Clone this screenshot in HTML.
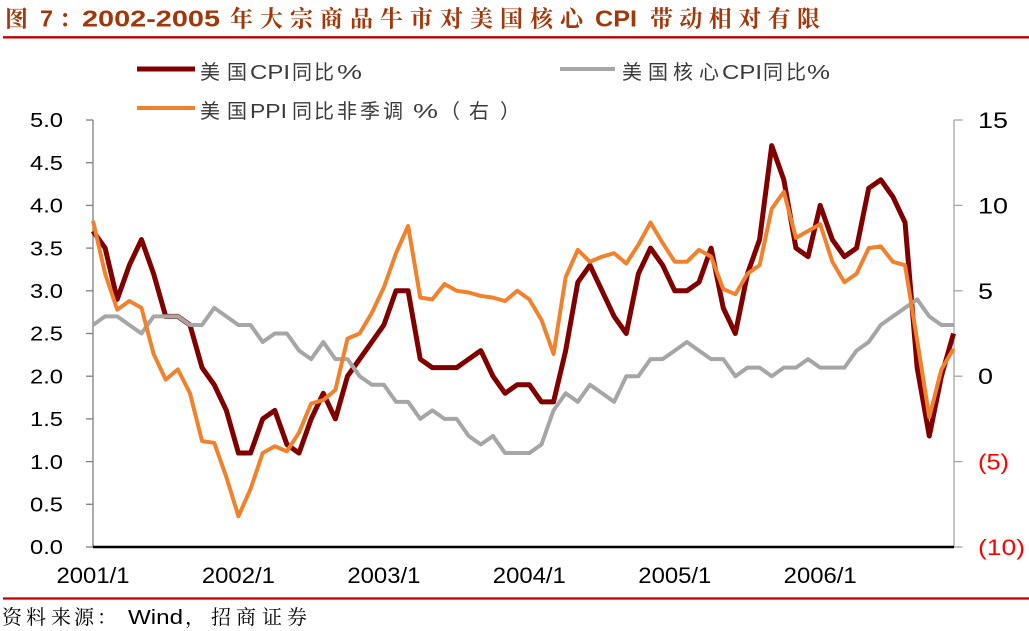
<!DOCTYPE html>
<html><head><meta charset="utf-8"><style>
html,body{margin:0;padding:0;background:#fff;}
svg{display:block;}
.sans{font-family:"Liberation Sans","Noto Sans CJK SC",sans-serif;}
.leg{font-family:"Liberation Sans","Noto Sans CJK SC",sans-serif;font-size:20px;fill:#3a3a3a;}
.ttl{font-family:"Liberation Sans","Noto Serif CJK SC",serif;font-size:23px;font-weight:bold;fill:#a0380c;}
.src{font-family:"Liberation Sans","Noto Serif CJK SC",serif;font-size:20px;fill:#000;}
</style></head><body>
<svg width="1029" height="631" viewBox="0 0 1029 631" xmlns="http://www.w3.org/2000/svg">
<rect x="0" y="0" width="1029" height="631" fill="#fff"/>

<!-- Title -->
<text class="ttl" y="26.5">
<tspan x="5">图</tspan>
<tspan x="40" textLength="13" lengthAdjust="spacingAndGlyphs">7</tspan>
<tspan x="59">：</tspan>
<tspan x="82" textLength="138" lengthAdjust="spacingAndGlyphs">2002-2005</tspan>
<tspan x="230 260 290 320 350 380 410 440 470 500 530 560">年大宗商品牛市对美国核心</tspan>
<tspan x="595" textLength="42" lengthAdjust="spacingAndGlyphs">CPI</tspan>
<tspan x="650 679.4 708.8 738.2 767.6 797">带动相对有限</tspan>
</text>
<line x1="3" y1="37.3" x2="1029" y2="37.3" stroke="#c00000" stroke-width="2.4"/>

<!-- Legend -->
<line x1="137" y1="69" x2="195" y2="69" stroke="#800000" stroke-width="5"/>
<text class="leg" y="79">
<tspan x="200 227">美国</tspan>
<tspan x="250" textLength="40" lengthAdjust="spacingAndGlyphs">CPI</tspan>
<tspan x="292 314">同比</tspan>
<tspan x="337" textLength="25" lengthAdjust="spacingAndGlyphs">%</tspan>
</text>
<line x1="560" y1="69" x2="615" y2="69" stroke="#a6a6a6" stroke-width="4"/>
<text class="leg" y="79">
<tspan x="622 648 673 699">美国核心</tspan>
<tspan x="722" textLength="40" lengthAdjust="spacingAndGlyphs">CPI</tspan>
<tspan x="763 786">同比</tspan>
<tspan x="807" textLength="23" lengthAdjust="spacingAndGlyphs">%</tspan>
</text>
<line x1="137" y1="108" x2="195" y2="108" stroke="#f0822e" stroke-width="4"/>
<text class="leg" y="118">
<tspan x="200 227">美国</tspan>
<tspan x="250" textLength="37" lengthAdjust="spacingAndGlyphs">PPI</tspan>
<tspan x="292 314 337 360 383">同比非季调</tspan>
<tspan x="413" textLength="25" lengthAdjust="spacingAndGlyphs">%</tspan>
<tspan x="440 469 500">（右）</tspan>
</text>

<!-- Left axis -->
<g stroke="#808080" stroke-width="1.3">
<line x1="93" y1="120" x2="93" y2="547"/>
<line x1="86" y1="120" x2="93" y2="120"/>
<line x1="86" y1="162.7" x2="93" y2="162.7"/>
<line x1="86" y1="205.4" x2="93" y2="205.4"/>
<line x1="86" y1="248.1" x2="93" y2="248.1"/>
<line x1="86" y1="290.8" x2="93" y2="290.8"/>
<line x1="86" y1="333.5" x2="93" y2="333.5"/>
<line x1="86" y1="376.2" x2="93" y2="376.2"/>
<line x1="86" y1="418.9" x2="93" y2="418.9"/>
<line x1="86" y1="461.6" x2="93" y2="461.6"/>
<line x1="86" y1="504.3" x2="93" y2="504.3"/>
<line x1="86" y1="547" x2="93" y2="547"/>
</g>
<g class="sans" font-size="20" fill="#000" text-anchor="end">
<text x="63" y="127.2" textLength="33" lengthAdjust="spacingAndGlyphs">5.0</text>
<text x="63" y="169.9" textLength="33" lengthAdjust="spacingAndGlyphs">4.5</text>
<text x="63" y="212.6" textLength="33" lengthAdjust="spacingAndGlyphs">4.0</text>
<text x="63" y="255.3" textLength="33" lengthAdjust="spacingAndGlyphs">3.5</text>
<text x="63" y="298.0" textLength="33" lengthAdjust="spacingAndGlyphs">3.0</text>
<text x="63" y="340.7" textLength="33" lengthAdjust="spacingAndGlyphs">2.5</text>
<text x="63" y="383.4" textLength="33" lengthAdjust="spacingAndGlyphs">2.0</text>
<text x="63" y="426.1" textLength="33" lengthAdjust="spacingAndGlyphs">1.5</text>
<text x="63" y="468.8" textLength="33" lengthAdjust="spacingAndGlyphs">1.0</text>
<text x="63" y="511.5" textLength="33" lengthAdjust="spacingAndGlyphs">0.5</text>
<text x="63" y="554.2" textLength="33" lengthAdjust="spacingAndGlyphs">0.0</text>
</g>

<!-- Right axis -->
<g stroke="#a6a6a6" stroke-width="1.3">
<line x1="954" y1="120" x2="954" y2="547"/>
<line x1="954" y1="120" x2="962.5" y2="120"/>
<line x1="954" y1="205.4" x2="962.5" y2="205.4"/>
<line x1="954" y1="290.8" x2="962.5" y2="290.8"/>
<line x1="954" y1="376.2" x2="962.5" y2="376.2"/>
<line x1="954" y1="461.6" x2="962.5" y2="461.6"/>
<line x1="954" y1="547" x2="962.5" y2="547"/>
</g>
<g class="sans" font-size="22">
<text x="978" y="128" fill="#000" textLength="30" lengthAdjust="spacingAndGlyphs">15</text>
<text x="978" y="213.4" fill="#000" textLength="30" lengthAdjust="spacingAndGlyphs">10</text>
<text x="978" y="298.8" fill="#000" textLength="15" lengthAdjust="spacingAndGlyphs">5</text>
<text x="978" y="384.2" fill="#000" textLength="15" lengthAdjust="spacingAndGlyphs">0</text>
<text x="978" y="469.6" fill="#ff0000" textLength="31" lengthAdjust="spacingAndGlyphs">(5)</text>
<text x="978" y="555" fill="#ff0000" textLength="47" lengthAdjust="spacingAndGlyphs">(10)</text>
</g>

<!-- X axis -->
<line x1="93" y1="547" x2="954" y2="547" stroke="#000" stroke-width="2.5"/>
<g class="sans" font-size="22" fill="#000" text-anchor="middle">
<text x="93" y="583" textLength="73" lengthAdjust="spacingAndGlyphs">2001/1</text>
<text x="238.4" y="583" textLength="73" lengthAdjust="spacingAndGlyphs">2002/1</text>
<text x="383.9" y="583" textLength="73" lengthAdjust="spacingAndGlyphs">2003/1</text>
<text x="529.3" y="583" textLength="73" lengthAdjust="spacingAndGlyphs">2004/1</text>
<text x="674.8" y="583" textLength="73" lengthAdjust="spacingAndGlyphs">2005/1</text>
<text x="820.2" y="583" textLength="73" lengthAdjust="spacingAndGlyphs">2006/1</text>
</g>

<!-- Series: CPI -->
<g transform="translate(93,547) scale(12.12,-85.4)">
<polyline fill="none" stroke="#800000" stroke-width="5" stroke-linejoin="round" vector-effect="non-scaling-stroke"
points="0,3.7 1,3.5 2,2.9 3,3.3 4,3.6 5,3.2 6,2.7 7,2.7 8,2.6 9,2.1 10,1.9 11,1.6 12,1.1 13,1.1 14,1.5 15,1.6 16,1.2 17,1.1 18,1.5 19,1.8 20,1.5 21,2.0 22,2.2 23,2.4 24,2.6 25,3.0 26,3.0 27,2.2 28,2.1 29,2.1 30,2.1 31,2.2 32,2.3 33,2.0 34,1.8 35,1.9 36,1.9 37,1.7 38,1.7 39,2.3 40,3.1 41,3.3 42,3.0 43,2.7 44,2.5 45,3.2 46,3.5 47,3.3 48,3.0 49,3.0 50,3.1 51,3.5 52,2.8 53,2.5 54,3.2 55,3.6 56,4.7 57,4.3 58,3.5 59,3.4 60,4.0 61,3.6 62,3.4 63,3.5 64,4.2 65,4.3 66,4.1 67,3.8 68,2.1 69,1.3 70,2.0 71,2.5"/>
</g>
<!-- Series: Core CPI -->
<g transform="translate(93,547) scale(12.12,-85.4)">
<polyline fill="none" stroke="#a6a6a6" stroke-width="4" stroke-linejoin="round" vector-effect="non-scaling-stroke"
points="0,2.6 1,2.7 2,2.7 3,2.6 4,2.5 5,2.7 6,2.7 7,2.7 8,2.6 9,2.6 10,2.8 11,2.7 12,2.6 13,2.6 14,2.4 15,2.5 16,2.5 17,2.3 18,2.2 19,2.4 20,2.2 21,2.2 22,2.0 23,1.9 24,1.9 25,1.7 26,1.7 27,1.5 28,1.6 29,1.5 30,1.5 31,1.3 32,1.2 33,1.3 34,1.1 35,1.1 36,1.1 37,1.2 38,1.6 39,1.8 40,1.7 41,1.9 42,1.8 43,1.7 44,2.0 45,2.0 46,2.2 47,2.2 48,2.3 49,2.4 50,2.3 51,2.2 52,2.2 53,2.0 54,2.1 55,2.1 56,2.0 57,2.1 58,2.1 59,2.2 60,2.1 61,2.1 62,2.1 63,2.3 64,2.4 65,2.6 66,2.7 67,2.8 68,2.9 69,2.7 70,2.6 71,2.6"/>
</g>
<!-- Series: PPI (right axis) -->
<g transform="translate(93,376.2) scale(12.12,-17.08)">
<polyline fill="none" stroke="#f0822e" stroke-width="4" stroke-linejoin="round" vector-effect="non-scaling-stroke"
points="0,9.1 1,6.0 2,3.9 3,4.4 4,4.0 5,1.3 6,-0.2 7,0.4 8,-1.0 9,-3.8 10,-3.9 11,-5.9 12,-8.2 13,-6.6 14,-4.5 15,-4.1 16,-4.4 17,-3.3 18,-1.6 19,-1.4 20,-0.8 21,2.2 22,2.5 23,3.7 24,5.2 25,7.2 26,8.8 27,4.6 28,4.5 29,5.4 30,5.0 31,4.9 32,4.7 33,4.6 34,4.4 35,5.0 36,4.5 37,3.3 38,1.3 39,5.8 40,7.4 41,6.7 42,7.0 43,7.2 44,6.6 45,7.7 46,9.0 47,7.8 48,6.7 49,6.7 50,7.4 51,7.0 52,5.1 53,4.8 54,6.0 55,6.5 56,9.8 57,10.8 58,8.1 59,8.5 60,8.9 61,6.7 62,5.5 63,6.0 64,7.5 65,7.6 66,6.7 67,6.5 68,2.1 69,-2.4 70,0.4 71,1.6"/>
</g>

<!-- Footer -->
<line x1="3" y1="598.5" x2="1029" y2="598.5" stroke="#c00000" stroke-width="2.2"/>
<text class="src" y="624">
<tspan x="2 26 51 74">资料来源</tspan>
<tspan x="97">：</tspan>
<tspan x="128" textLength="55" lengthAdjust="spacingAndGlyphs">Wind</tspan>
<tspan x="185">，</tspan>
<tspan x="211 236 262 287">招商证券</tspan>
</text>
</svg>
</body></html>
